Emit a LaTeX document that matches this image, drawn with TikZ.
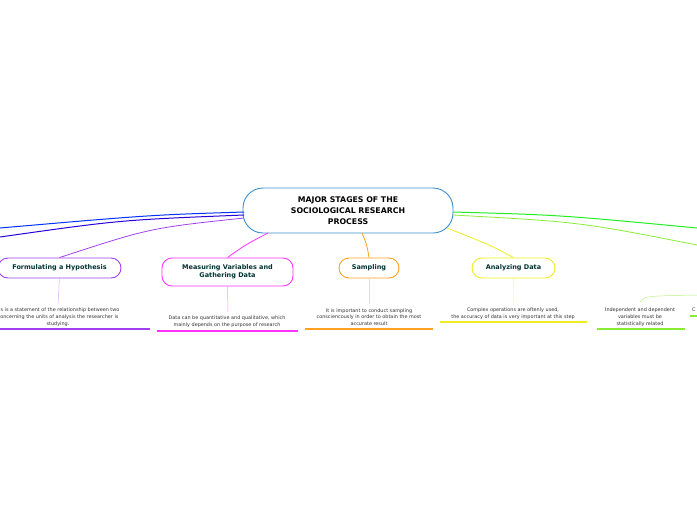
\documentclass[tikz,border=0pt]{standalone}
\usepackage{fontspec}
\setmainfont{DejaVu Sans}
\begin{document}
\begin{tikzpicture}[x=1pt,y=-1pt,
 topic/.style={draw,rounded corners=10pt,line width=0.9pt,fill=white,font=\fontsize{6.5}{7.8}\selectfont\bfseries,text=teal!40!black,align=center,inner sep=0pt},
 desc/.style={font=\fontsize{4.9}{6.8}\selectfont,text=black!80,align=center,inner sep=0pt},
 uline/.style={line width=1.3pt},
 tie/.style={line width=0.5pt}]
\useasboundingbox (0,0) rectangle (697,520);
\definecolor{cblue}{HTML}{3B8FD0}
\definecolor{cpur}{HTML}{A040F0}
\definecolor{cmag}{HTML}{FF33FF}
\definecolor{corg}{HTML}{FFA020}
\definecolor{cyel}{HTML}{EEEE20}
\definecolor{cgrn}{HTML}{22EE22}
\definecolor{clgr}{HTML}{88EE33}
\coordinate (L1) at (0,228); \coordinate (L2) at (0,237);
\coordinate (R1) at (697,228); \coordinate (R2) at (697,245);
\node[topic,text=black,draw=cblue,minimum width=210pt,minimum height=45pt,rounded corners=20pt,font=\fontsize{7.8}{11}\selectfont\bfseries] (c) at (348,210.5) {MAJOR STAGES OF THE\\SOCIOLOGICAL RESEARCH\\PROCESS};
\coordinate (cw1) at (244,212); \coordinate (cw2) at (244,215); \coordinate (cw3) at (244,218);
\coordinate (ce1) at (453,212); \coordinate (ce2) at (453,215);
\draw[line width=1pt,blue!80!cyan] (cw1) .. controls (150,215) .. (L1);
\draw[line width=1pt,blue!70!violet] (cw2) .. controls (120,220) .. (L2);
\draw[line width=1pt,cgrn] (ce1) .. controls (560,215) .. (R1);
\draw[line width=0.8pt,clgr] (ce2) .. controls (580,222) .. (R2);
\node[topic,draw=cpur,minimum width=123pt,minimum height=20pt] (f) at (59.5,268) {Formulating a Hypothesis};
\node[topic,draw=cmag,minimum width=131pt,minimum height=28pt] (m) at (227.5,272) {Measuring Variables and\\Gathering Data};
\node[topic,draw=corg,minimum width=60pt,minimum height=20pt] (s) at (369,268) {Sampling};
\node[topic,draw=cyel,minimum width=83pt,minimum height=20pt] (a) at (513.5,268) {Analyzing Data};
\draw[line width=0.8pt,cpur] (cw3) .. controls (150,228) .. (f.north);
\draw[line width=0.8pt,cmag] (268,233) .. controls (245,245) .. (m.north);
\draw[line width=0.8pt,corg] (362,233) .. controls (367,245) .. (s.north);
\draw[line width=0.8pt,cyel] (447,228) .. controls (490,245) .. (a.north);
\node[desc] (fd) at (58,317) {sis is a statement of the relationship between two\\ concerning the units of analysis the researcher is\\studying.};
\node[desc] (md) at (227,321.5) {Data can be quantitative and qualitative, which\\mainly depends on the purpose of research};
\node[desc] (sd) at (369,317) {It is important to conduct sampling\\consciencously in order to obtain the most\\accurate result};
\node[desc] (ad) at (513,313.5) {Complex operations are oftenly used,\\the accuracy of data is very important at this step};
\node[desc] (id) at (640,317) {Independent and dependent\\variables must be\\statistically related};
\node[desc,anchor=west] (cd) at (692,310) {C};
\draw[tie,cpur!40] (f.south) -- (58,304);
\draw[tie,cmag!50] (m.south) -- (228,312);
\draw[tie,corg!40] (s.south) -- (369,304);
\draw[tie,cyel!50] (a.south) -- (513,304);
\coordinate (ie) at (697,295);
\coordinate (is) at (640,302);
\draw[tie,clgr!60] (is) .. controls (645,296) .. (ie);
\draw[uline,cpur] (0,329) -- (150,329);
\draw[uline,cmag] (157,331) -- (298,331);
\draw[uline,corg] (305,329) -- (433,329);
\draw[uline,cyel] (440,322) -- (587,322);
\draw[uline,clgr] (597,329) -- (685,329);
\draw[uline,clgr] (690,316) -- (697,316);
\end{tikzpicture}
\end{document}
